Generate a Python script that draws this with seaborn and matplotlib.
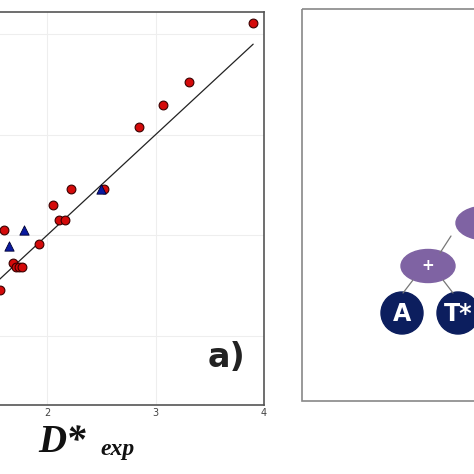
import matplotlib
matplotlib.use("Agg")
import matplotlib.pyplot as plt
import seaborn as sns
import pandas as pd
from matplotlib.patches import Ellipse, Circle, Rectangle

red_x = [3.90, 3.31, 3.07, 2.85, 2.22, 2.52, 2.05, 2.11, 2.16, 1.92, 1.68, 1.71, 1.74, 1.77, 1.60, 1.56]
red_y = [4.11, 3.52, 3.29, 3.08, 2.46, 2.46, 2.30, 2.15, 2.15, 1.91, 1.72, 1.68, 1.68, 1.68, 2.05, 1.45]
blue_x = [2.50, 1.79, 1.645]
blue_y = [2.46, 2.05, 1.89]
xticks = [2, 3, 4]
line_x = [0.0, 3.9]

sns.set_theme(style="white")
fig = plt.figure(figsize=(4.74, 4.74), dpi=100)
W = 474
ax = fig.add_axes([-7/W, 69/W, 271/W, 393/W])
ax.plot(line_x, line_x, color="#222222", lw=0.9, zorder=2)
df_r = pd.DataFrame({"x": red_x, "y": red_y})
df_b = pd.DataFrame({"x": blue_x, "y": blue_y})
sns.scatterplot(data=df_r, x="x", y="y", ax=ax, color="#d40a0a", edgecolor="#3a0000",
                linewidth=0.8, s=40, zorder=3)
sns.scatterplot(data=df_b, x="x", y="y", ax=ax, color="#0a1aa0", edgecolor="#000033",
                marker="^", linewidth=0.6, s=45, zorder=4)
ax.set_xlim(1.5, 4.0)
ax.set_ylim(0.31, 4.22)
ax.set_xticks(xticks)
ax.set_xticklabels([str(t) for t in xticks], fontsize=7, color="#444444")
ax.set_yticks([1, 2, 3, 4])
ax.set_yticklabels([])
ax.tick_params(axis="x", length=0, pad=2)
ax.tick_params(axis="y", length=0)
ax.grid(True, color="#eeeeee", lw=0.8)
ax.set_xlabel("")
ax.set_ylabel("")
for s in ax.spines.values():
    s.set_color("#555555")
    s.set_linewidth(1.2)
ax.text(0.93, 0.08, "a)", transform=ax.transAxes, fontsize=24, weight="bold",
        ha="right", va="bottom", color="#222222")

fig.text(38/W, 1 - 452/W, "D*", family="Liberation Serif", style="italic", weight="bold",
         fontsize=28, color="#111111")
fig.text(100/W, 1 - 455/W, "exp", family="Liberation Serif", style="italic", weight="bold",
         fontsize=17, color="#111111")

ov = fig.add_axes([0, 0, 1, 1], zorder=5)
ov.set_xlim(0, W); ov.set_ylim(W, 0); ov.axis("off")
ov.add_patch(Rectangle((302, 9), 200, 392, fill=False, ec="#888888", lw=1.2))
purple = "#7f63a3"; navy = "#0c1e5e"
ov.plot([451, 440], [236, 253], color="#777777", lw=0.9)
ov.plot([413, 403], [280, 293], color="#777777", lw=0.9)
ov.plot([443, 453], [280, 293], color="#777777", lw=0.9)
ov.add_patch(Ellipse((486, 223), 60, 34, color=purple))
ov.add_patch(Ellipse((428, 266), 54, 33, color=purple))
ov.text(428, 266, "+", color="white", fontsize=11, weight="bold", ha="center", va="center")
ov.add_patch(Circle((402, 313), 21, color=navy))
ov.add_patch(Circle((458, 313), 21, color=navy))
ov.text(402, 314, "A", color="white", fontsize=17, weight="bold", ha="center", va="center")
ov.text(458, 314, "T*", color="white", fontsize=17, weight="bold", ha="center", va="center")

fig.savefig("out.png", dpi=100)
